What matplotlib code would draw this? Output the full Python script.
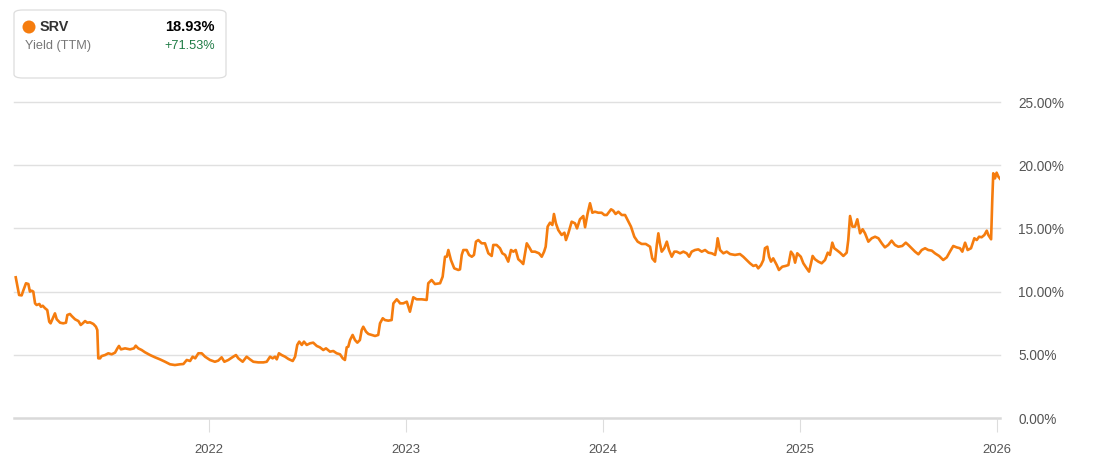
import matplotlib
matplotlib.use("Agg")
import matplotlib.pyplot as plt
from matplotlib.patches import FancyBboxPatch, Ellipse

plt.rcParams['font.family'] = ['Liberation Sans', 'DejaVu Sans']

ticker = "SRV"
metric_label = "Yield (TTM)"
last_value = "18.93%"
change_value = "+71.53%"

year_ticks = [2022, 2023, 2024, 2025, 2026]
yield_ticks = [0, 5, 10, 15, 20, 25]

# decimal-year dates
dates = [
    2021.019, 2021.036, 2021.049, 2021.057, 2021.071, 2021.083, 2021.091, 2021.100, 2021.108, 2021.117,
    2021.125, 2021.139, 2021.147, 2021.156, 2021.168, 2021.179, 2021.189, 2021.196, 2021.207, 2021.218,
    2021.227, 2021.244, 2021.260, 2021.274, 2021.281, 2021.294, 2021.303, 2021.320, 2021.337, 2021.349,
    2021.359, 2021.371, 2021.382, 2021.396, 2021.413, 2021.426, 2021.433, 2021.438, 2021.447, 2021.455,
    2021.472, 2021.489, 2021.506, 2021.523, 2021.535, 2021.543, 2021.553, 2021.574, 2021.599, 2021.619,
    2021.628, 2021.641, 2021.658, 2021.675, 2021.701, 2021.726, 2021.751, 2021.777, 2021.802, 2021.827,
    2021.853, 2021.870, 2021.887, 2021.904, 2021.917, 2021.930, 2021.946, 2021.963, 2021.980, 2022.005,
    2022.030, 2022.047, 2022.064, 2022.078, 2022.098, 2022.123, 2022.137, 2022.149, 2022.171, 2022.191,
    2022.208, 2022.225, 2022.250, 2022.276, 2022.293, 2022.310, 2022.323, 2022.335, 2022.344, 2022.355,
    2022.369, 2022.386, 2022.403, 2022.425, 2022.437, 2022.448, 2022.458, 2022.471, 2022.482, 2022.496,
    2022.513, 2022.529, 2022.547, 2022.563, 2022.580, 2022.594, 2022.614, 2022.631, 2022.648, 2022.665,
    2022.679, 2022.690, 2022.699, 2022.707, 2022.716, 2022.729, 2022.741, 2022.753, 2022.766, 2022.775,
    2022.783, 2022.797, 2022.809, 2022.826, 2022.843, 2022.859, 2022.868, 2022.882, 2022.893, 2022.910,
    2022.927, 2022.936, 2022.953, 2022.964, 2022.970, 2022.986, 2023.004, 2023.020, 2023.037, 2023.054,
    2023.080, 2023.105, 2023.113, 2023.130, 2023.147, 2023.173, 2023.186, 2023.198, 2023.207, 2023.215,
    2023.228, 2023.245, 2023.266, 2023.274, 2023.283, 2023.291, 2023.308, 2023.320, 2023.334, 2023.345,
    2023.355, 2023.367, 2023.384, 2023.401, 2023.418, 2023.435, 2023.443, 2023.460, 2023.477, 2023.489,
    2023.503, 2023.519, 2023.533, 2023.545, 2023.557, 2023.570, 2023.584, 2023.595, 2023.613, 2023.626,
    2023.638, 2023.655, 2023.675, 2023.689, 2023.701, 2023.709, 2023.719, 2023.731, 2023.743, 2023.751,
    2023.761, 2023.773, 2023.790, 2023.804, 2023.812, 2023.824, 2023.841, 2023.858, 2023.868, 2023.883,
    2023.900, 2023.909, 2023.922, 2023.934, 2023.946, 2023.959, 2023.976, 2023.993, 2024.007, 2024.019,
    2024.041, 2024.052, 2024.064, 2024.078, 2024.095, 2024.112, 2024.125, 2024.142, 2024.159, 2024.176,
    2024.196, 2024.217, 2024.239, 2024.250, 2024.264, 2024.273, 2024.281, 2024.289, 2024.298, 2024.311,
    2024.324, 2024.335, 2024.349, 2024.362, 2024.374, 2024.391, 2024.408, 2024.425, 2024.437, 2024.450,
    2024.467, 2024.484, 2024.501, 2024.518, 2024.535, 2024.552, 2024.569, 2024.577, 2024.582, 2024.594,
    2024.611, 2024.628, 2024.645, 2024.670, 2024.695, 2024.712, 2024.729, 2024.746, 2024.763, 2024.777,
    2024.788, 2024.802, 2024.814, 2024.822, 2024.834, 2024.843, 2024.853, 2024.864, 2024.882, 2024.893,
    2024.910, 2024.927, 2024.941, 2024.954, 2024.966, 2024.975, 2024.986, 2025.004, 2025.017, 2025.034,
    2025.046, 2025.056, 2025.064, 2025.076, 2025.093, 2025.110, 2025.127, 2025.141, 2025.152, 2025.164,
    2025.174, 2025.186, 2025.203, 2025.220, 2025.237, 2025.245, 2025.254, 2025.266, 2025.279, 2025.291,
    2025.305, 2025.318, 2025.330, 2025.347, 2025.364, 2025.381, 2025.398, 2025.415, 2025.431, 2025.448,
    2025.465, 2025.482, 2025.499, 2025.519, 2025.537, 2025.550, 2025.567, 2025.584, 2025.601, 2025.618,
    2025.635, 2025.651, 2025.669, 2025.685, 2025.706, 2025.727, 2025.745, 2025.761, 2025.778, 2025.795,
    2025.812, 2025.824, 2025.838, 2025.851, 2025.868, 2025.885, 2025.897, 2025.909, 2025.922, 2025.936,
    2025.948, 2025.956, 2025.970, 2025.976, 2025.981, 2025.990, 2025.998, 2026.007, 2026.015,
]

yields = [
    11.13, 9.73, 9.70, 10.07, 10.66, 10.60, 10.00, 10.07, 10.00, 9.07,
    8.94, 9.02, 8.80, 8.88, 8.68, 8.54, 7.62, 7.49, 7.89, 8.28,
    7.81, 7.54, 7.49, 7.54, 8.15, 8.23, 8.07, 7.81, 7.67, 7.36,
    7.49, 7.67, 7.54, 7.57, 7.44, 7.22, 6.96, 4.72, 4.72, 4.90,
    4.98, 5.12, 5.04, 5.17, 5.51, 5.70, 5.43, 5.51, 5.43, 5.51,
    5.72, 5.51, 5.38, 5.20, 4.98, 4.80, 4.64, 4.45, 4.25, 4.19,
    4.25, 4.27, 4.59, 4.51, 4.85, 4.72, 5.12, 5.12, 4.85, 4.59,
    4.45, 4.54, 4.80, 4.45, 4.59, 4.85, 4.98, 4.72, 4.45, 4.85,
    4.64, 4.45, 4.40, 4.40, 4.45, 4.85, 4.72, 4.85, 4.64, 5.12,
    4.98, 4.85, 4.67, 4.51, 4.85, 5.78, 6.04, 5.78, 6.04, 5.78,
    5.91, 5.96, 5.70, 5.59, 5.38, 5.51, 5.25, 5.30, 5.12, 5.04,
    4.72, 4.59, 5.59, 5.64, 6.17, 6.57, 6.17, 5.96, 6.17, 6.96,
    7.22, 6.83, 6.65, 6.57, 6.49, 6.57, 7.49, 7.89, 7.75, 7.70,
    7.75, 9.07, 9.39, 9.20, 9.07, 9.07, 9.20, 8.41, 9.55, 9.39,
    9.39, 9.34, 10.66, 10.92, 10.60, 10.66, 11.18, 12.76, 12.76, 13.29,
    12.50, 11.84, 11.71, 11.76, 12.90, 13.29, 13.29, 12.90, 12.76, 12.90,
    13.95, 14.08, 13.82, 13.82, 13.03, 12.82, 13.69, 13.69, 13.43, 13.03,
    12.90, 12.37, 13.29, 13.16, 13.29, 12.56, 12.37, 12.18, 13.82, 13.50,
    13.16, 13.16, 13.03, 12.76, 13.16, 13.55, 15.14, 15.45, 15.27, 16.14,
    15.40, 14.87, 14.48, 14.66, 14.08, 14.61, 15.53, 15.40, 15.00, 15.72,
    15.98, 15.09, 16.19, 16.99, 16.24, 16.32, 16.24, 16.24, 16.06, 16.06,
    16.51, 16.40, 16.14, 16.32, 16.06, 16.06, 15.66, 15.14, 14.34, 13.95,
    13.77, 13.77, 13.55, 12.63, 12.37, 13.69, 14.61, 13.82, 13.16, 13.43,
    13.95, 13.29, 12.76, 13.16, 13.16, 13.03, 13.16, 13.03, 12.76, 13.16,
    13.29, 13.34, 13.16, 13.29, 13.08, 13.03, 12.90, 13.55, 14.22, 13.29,
    13.03, 13.16, 12.97, 12.90, 12.97, 12.76, 12.50, 12.24, 12.03, 12.10,
    11.84, 12.10, 12.50, 13.43, 13.55, 12.76, 12.37, 12.63, 12.10, 11.71,
    11.97, 12.03, 12.10, 13.16, 12.90, 12.29, 13.03, 12.76, 12.24, 11.84,
    11.58, 12.24, 12.82, 12.56, 12.37, 12.24, 12.50, 13.08, 12.90, 13.87,
    13.43, 13.29, 13.08, 12.82, 13.08, 14.08, 15.98, 15.14, 15.14, 15.72,
    14.61, 14.93, 14.61, 13.95, 14.22, 14.34, 14.22, 13.82, 13.50, 13.69,
    14.03, 13.69, 13.55, 13.61, 13.87, 13.69, 13.43, 13.16, 12.95, 13.29,
    13.43, 13.29, 13.24, 13.03, 12.82, 12.50, 12.71, 13.16, 13.61, 13.50,
    13.43, 13.16, 13.87, 13.29, 13.43, 14.22, 14.08, 14.34, 14.30, 14.48,
    14.82, 14.48, 14.14, 17.25, 19.36, 18.96, 19.41, 19.09, 18.93,
]

W, H = 1094, 469
fig = plt.figure(figsize=(W / 100, H / 100), dpi=100)
ax = fig.add_axes([14 / W, (H - 418) / H, (1000 - 14) / W, (418 - 102) / H])

ax.plot(dates, yields, color='#f57c0e', linewidth=1.9, solid_joinstyle='round', zorder=3)

ax.set_xlim(2022 - 195 / 197, 2022 + 791 / 197)
ax.set_ylim(0, 25)

for s in ax.spines.values():
    s.set_visible(False)

for v in yield_ticks:
    if v == 0:
        ax.axhline(v, color='#d9d9d9', linewidth=1.8, zorder=1, clip_on=False)
    else:
        ax.axhline(v, color='#e0e0e0', linewidth=1.0, zorder=1, clip_on=False)

ax.yaxis.tick_right()
ax.set_yticks(yield_ticks)
ax.set_yticklabels([f"{v:.2f}%" for v in yield_ticks])
ax.tick_params(axis='y', length=0, pad=13, labelsize=9.8, labelcolor='#555555')

ax.set_xticks(year_ticks)
ax.set_xticklabels([str(y) for y in year_ticks])
ax.tick_params(axis='x', length=10, width=0.8, color='#dddddd', pad=9,
               labelsize=9.4, labelcolor='#555555')

# legend box
box = FancyBboxPatch((14 / W, 1 - 78 / H), 212 / W, 68 / H,
                     boxstyle="round,pad=0,rounding_size=0.008",
                     transform=fig.transFigure, facecolor='white',
                     edgecolor='#dddddd', linewidth=0.9)
fig.patches.append(box)
fig.patches.append(Ellipse((29 / W, 1 - 27 / H), 13 / W, 13 / H, transform=fig.transFigure,
                           facecolor='#f57c0e', edgecolor='none'))
fig.text(40 / W, 1 - 27 / H, ticker, fontsize=10.4, fontweight='bold', color='#333333',
         va='center', ha='left')
fig.text(215 / W, 1 - 27 / H, last_value, fontsize=10.5, fontweight='bold', color='#000000',
         va='center', ha='right')
fig.text(25 / W, 1 - 46 / H, metric_label, fontsize=9.2, color='#777777',
         va='center', ha='left')
fig.text(215 / W, 1 - 46 / H, change_value, fontsize=9.2, color='#1e7b45',
         va='center', ha='right')

fig.savefig('out.png', dpi=100, facecolor='white')
